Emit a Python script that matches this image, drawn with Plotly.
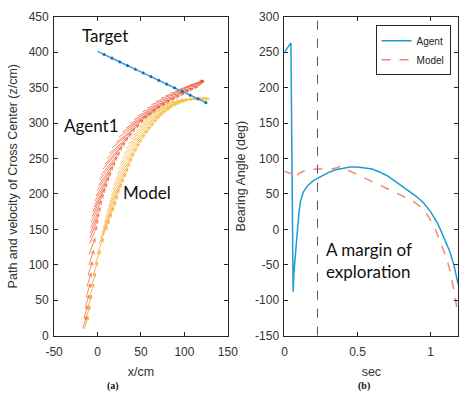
import math
import plotly.graph_objects as go

# ---------------- data: panel (a) ----------------
agent_x = [-17, -15.5, -14, -13, -12, -11, -10, -9.5, -9, -8.8, -8.5, -8, -7.5, -6.5, -5.5, -4.3, -3, -1.8, -0.5, 1,
           2.5, 4.2, 6, 8.5, 11, 14, 17, 20.7, 24.5, 28.7, 33, 37.5, 42, 47, 52, 57, 62, 67.5, 73, 78.5, 84, 89.5,
           95, 100.5, 106]
agent_y = [10, 25, 40, 55, 70, 85, 100, 115, 130, 138, 145, 152, 160, 168, 175, 182, 190, 197, 205, 212,
           220, 227, 235, 242, 250, 257, 265, 272, 280, 287, 293, 299, 305, 310.5, 316, 321, 326, 330.5, 335, 338.5,
           342, 345, 348, 350.5, 353]
agent_u = [4, 4, 4, 4.5, 4.5, 5, 5.5, 6.5, 8, 9, 10, 11, 12, 13, 14, 15, 16, 17, 18, 19,
           20, 21, 22, 23, 24, 25, 26, 27, 28, 28.5, 29, 29.5, 30, 30.5, 31, 31.5, 32, 32, 32, 31.5,
           31, 29, 27, 22, 16]
agent_v = [17, 17, 17, 18, 18, 19, 20, 22, 24, 25.5, 27, 28.5, 30, 31, 32, 32.5, 33, 33, 33, 32.5,
           32, 31.5, 31, 30, 29, 28, 27, 25.5, 24, 22.5, 21, 19.5, 18, 16.5, 15, 13.5, 12, 11, 10, 9.5,
           9, 9.5, 10, 8.5, 7]

model_x = [-15, -13, -11, -9, -7, -5, -3, -0.5, 2, 3.5, 5, 6.5, 8, 9.5, 11, 12.5, 14, 15.5, 17, 18.7,
           20.5, 22.2, 24, 26, 28, 30.5, 33, 35.7, 38.5, 41.5, 44.5, 47.7, 51, 54.5, 58, 62, 66, 70.5, 75, 80,
           85, 90.5, 96, 101.5, 107]
model_y = [10, 25, 40, 55, 70, 85, 100, 115, 130, 137.5, 145, 152.5, 160, 167.5, 175, 182.5, 190, 197.5, 205, 212.5,
           220, 227.5, 235, 242.5, 250, 257, 264, 270.5, 277, 283, 289, 294.5, 300, 305, 310, 314, 318, 321.5, 325, 327.5,
           330, 331.5, 333, 333.5, 334]
model_u = [4, 4, 4, 4.5, 4.5, 5, 6, 7, 9, 10, 11, 12, 13, 13.5, 14, 15, 16, 17, 18, 18.5,
           19, 20, 21, 22, 23, 24, 25, 25.5, 26, 26.5, 27, 27.5, 28, 28.5, 29, 29.5, 30, 30, 30, 30,
           30, 29, 28, 25, 22]
model_v = [17, 17, 17, 18, 18, 19, 20, 22, 24, 25.5, 27, 28, 29, 30, 31, 31, 31, 31, 31, 30.5,
           30, 29.5, 29, 28, 27, 26, 25, 23.5, 22, 21, 20, 18.5, 17, 15.5, 14, 12.5, 11, 9.5, 8, 6.5,
           5, 3.5, 2, 1, 0]

target_x = [0, 9, 18, 27, 36, 45, 54, 63, 72, 81, 90, 99, 108, 117]
target_y = [401, 395.8, 390.6, 385.3, 380.1, 374.9, 369.7, 364.5, 359.2, 354.0, 348.8, 343.6, 338.4, 333.2]
target_u = [9] * 14
target_v = [-5.2] * 14

xticks_a = [-50, 0, 50, 100, 150]
xtick_text_a = ["-50", "0", "50", "100", "150"]
yticks_a = [0, 50, 100, 150, 200, 250, 300, 350, 400, 450]

# ---------------- data: panel (b) ----------------
agent_t = [0, 0.02, 0.044, 0.05, 0.055, 0.059, 0.065, 0.075, 0.088, 0.1, 0.11, 0.13, 0.16, 0.2, 0.25, 0.3, 0.35, 0.4,
           0.45, 0.5, 0.55, 0.6, 0.65, 0.7, 0.75, 0.8, 0.85, 0.9, 0.95, 1.0, 1.05, 1.1, 1.13, 1.16, 1.19]
agent_b = [250, 256, 263, 120, -40, -88, -60, -30, -3, 25, 40, 53, 62, 69, 75, 80, 84, 86.5,
           88, 88, 87, 85, 81, 76, 69, 62, 55, 47, 38, 25, 8, -15, -30, -50, -78]
model_t = [0, 0.03, 0.05, 0.066, 0.08, 0.1, 0.13, 0.17, 0.22, 0.28, 0.33, 0.36, 0.38, 0.41, 0.45, 0.5, 0.55, 0.6,
           0.66, 0.72, 0.77, 0.82, 0.88, 0.93, 0.98, 1.03, 1.07, 1.1, 1.13, 1.16, 1.19]
model_b = [82, 80, 78, 71, 74, 79, 82, 84, 85, 85, 85.5, 87, 89, 86, 82, 78, 73, 67,
           62, 56, 51, 46, 40, 32, 20, 2, -20, -35, -55, -85, -122]
margin_t = 0.226
xticks_b = [0, 0.5, 1]
xtick_text_b = ["0", "0.5", "1"]
yticks_b = [-150, -100, -50, 0, 50, 100, 150, 200, 250, 300]
ytick_text_b = ["-150", "-100", "-50", "0", "50", "100", "150", "200", "250", "300"]

# ---------------- layout geometry ----------------
W, H = 474, 405
dom_xa = [47 / W, 228 / W]
dom_xb = [287 / W, 468 / W]
dom_y = [(H - 340.5) / H, (H - 10) / H]
xr_a, yr_a = [-50, 150], [0, 450]
xr_b, yr_b = [0, 1.19], [-150, 300]

# pixel-per-unit scales of panel (a), used for drawing arrow heads
sx = (dom_xa[1] - dom_xa[0]) * W / (xr_a[1] - xr_a[0])
sy = (dom_y[1] - dom_y[0]) * H / (yr_a[1] - yr_a[0])


def hex_mix(c1, c2, f):
    a = [int(c1[i:i + 2], 16) for i in (1, 3, 5)]
    b = [int(c2[i:i + 2], 16) for i in (1, 3, 5)]
    m = [round(a[k] + (b[k] - a[k]) * f) for k in range(3)]
    return "#%02x%02x%02x" % tuple(m)


def add_quiver(fig, xs, ys, us, vs, c_start, c_end, width=1.0, opacity=1.0, head_col=None, hmax=4.0):
    n = len(xs)
    for i in range(n):
        x0, y0, u, v = xs[i], ys[i], us[i], vs[i]
        x1, y1 = x0 + u, y0 + v
        px, py = u * sx, v * sy
        L = math.hypot(px, py)
        h = min(0.3 * L, hmax)
        ang = math.atan2(py, px)
        bx, by = [], []
        for s in (1, -1):
            a = ang + math.pi + s * math.radians(24)
            bx.append(x1 + h * math.cos(a) / sx)
            by.append(y1 + h * math.sin(a) / sy)
        col = hex_mix(c_start, c_end, i / max(n - 1, 1))
        fig.add_trace(go.Scatter(
            x=[x0, x1], y=[y0, y1],
            mode="lines", line=dict(color=col, width=width),
            opacity=opacity, showlegend=False, hoverinfo="skip",
            xaxis="x", yaxis="y"))
        fig.add_trace(go.Scatter(
            x=[bx[0], x1, bx[1]], y=[by[0], y1, by[1]],
            mode="lines", line=dict(color=head_col or col, width=width),
            opacity=opacity, showlegend=False, hoverinfo="skip",
            xaxis="x", yaxis="y"))


fig = go.Figure()
add_quiver(fig, model_x, model_y, model_u, model_v, "#f79a1e", "#f9c03a", 0.9, 0.85)
add_quiver(fig, agent_x, agent_y, agent_u, agent_v, "#f06424", "#e8482e", 0.9, 0.8)
add_quiver(fig, target_x, target_y, target_u, target_v, "#3aa2dc", "#3aa2dc", 1.5, 1.0,
           head_col="#1565a8", hmax=5.0)

fig.add_trace(go.Scatter(x=agent_t, y=agent_b, mode="lines", name="Agent",
                         line=dict(color="#1f9bd4", width=1.5), xaxis="x2", yaxis="y2"))
fig.add_trace(go.Scatter(x=model_t, y=model_b, mode="lines", name="Model",
                         line=dict(color="#f08a70", width=1.5, dash="dash"), xaxis="x2", yaxis="y2"))
fig.add_trace(go.Scatter(x=[margin_t, margin_t], y=yr_b, mode="lines", showlegend=False,
                         line=dict(color="#555555", width=1, dash="dash"), xaxis="x2", yaxis="y2",
                         hoverinfo="skip"))

axis_common = dict(showline=True, linecolor="#262626", linewidth=1, mirror="ticks", ticks="inside",
                   ticklen=4, tickcolor="#262626", showgrid=False, zeroline=False,
                   tickfont=dict(family="Liberation Sans, Arial", size=12, color="#333333"),
                   title_font=dict(family="Liberation Sans, Arial", size=12.5, color="#333333"))

fig.update_layout(
    width=W, height=H, margin=dict(l=0, r=0, t=0, b=0),
    paper_bgcolor="white", plot_bgcolor="white",
    xaxis=dict(domain=dom_xa, range=xr_a, tickvals=xticks_a, ticktext=xtick_text_a, ticklabelstandoff=5,
               title=dict(text="x/cm", standoff=9), anchor="y", **axis_common),
    yaxis=dict(domain=dom_y, range=yr_a, tickvals=yticks_a, ticklabelstandoff=2,
               title=dict(text="Path and velocity of Cross Center (z/cm)", standoff=8),
               anchor="x", **axis_common),
    xaxis2=dict(domain=dom_xb, range=xr_b, tickvals=xticks_b, ticktext=xtick_text_b, ticklabelstandoff=5,
                title=dict(text="sec", standoff=9), anchor="y2", **axis_common),
    yaxis2=dict(domain=dom_y, range=yr_b, tickvals=yticks_b, ticktext=ytick_text_b, ticklabelstandoff=2,
                title=dict(text="Bearing Angle (deg)", standoff=6), anchor="x2", **axis_common),
    legend=dict(x=460 / W, y=(H - 19) / H, xanchor="right", yanchor="top", bgcolor="white",
                bordercolor="#262626", borderwidth=1,
                font=dict(family="Liberation Sans, Arial", size=10, color="#222222"),
                tracegroupgap=0, itemwidth=30),
    showlegend=True,
)

label_font = dict(family="Lato, Open Sans", size=17, color="#111111")
fig.add_annotation(x=8, y=423, xref="x", yref="y", text="Target", showarrow=False, font=label_font)
fig.add_annotation(x=-7, y=296, xref="x", yref="y", text="Agent1", showarrow=False, font=label_font)
fig.add_annotation(x=57, y=202, xref="x", yref="y", text="Model", showarrow=False, font=label_font)
fig.add_annotation(x=0.268, y=-44, xref="x2", yref="y2", text="A margin of<br>exploration",
                   showarrow=False, xanchor="left", yanchor="middle", align="left", font=label_font)
cap_font = dict(family="Liberation Serif, Times New Roman", size=10, color="#111111")
fig.add_annotation(x=108 / W, y=(H - 393) / H, xref="paper", yref="paper", text="<b>(a)</b>",
                   showarrow=False, xanchor="center", yanchor="middle", font=cap_font)
fig.add_annotation(x=370 / W, y=(H - 393) / H, xref="paper", yref="paper", text="<b>(b)</b>",
                   showarrow=False, xanchor="center", yanchor="middle", font=cap_font)

fig.write_html("out.html")
